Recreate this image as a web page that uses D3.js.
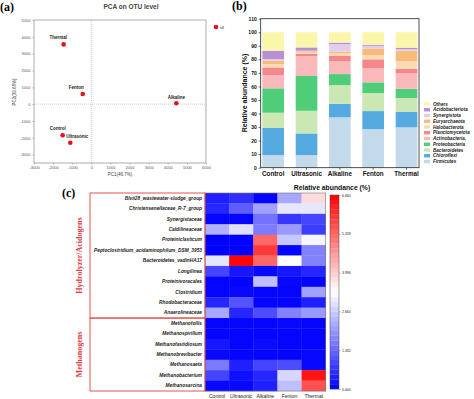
<!DOCTYPE html>
<html>
<head>
<meta charset="utf-8">
<script src="https://cdn.jsdelivr.net/npm/d3@7"></script>
<style>
body { margin: 0; background: #fff; }
svg { font-family: "Liberation Sans", Arial, sans-serif; }
.tick text { font-family: "Liberation Sans", Arial, sans-serif; }
</style>
</head>
<body>
<svg id="fig" width="474" height="399"></svg>
<script>
// ---- data ----
// (a) PCA
var pcaNames = ["Thermal", "Fenton", "Alkaline", "Control", "Ultrasonic"];
var pc1 = [-1450, -450, 4450, -1500, -1100];
var pc2 = [3550, 600, 50, -1850, -2300];
var pcaXTicks = [-3000, -2000, -1000, 0, 1000, 2000, 3000, 4000, 5000, 6000];
var pcaYTicks = [-3000, -2000, -1000, 0, 1000, 2000, 3000, 4000, 5000];

// (b) stacked bars, phylum level (%)
var groups = ["Control", "Ultrasonic", "Alkaline", "Fenton", "Thermal"];
var phyla = ["Firmicutes", "Chloroflexi", "Bacteroidetes", "Proteobacteria", "Actinobacteria,",
	"Planctomycetota", "Halobacterota", "Euryarchaeota", "Synergistota", "Acidobacteriota", "Others"];
var phylumColors = ["#c3daea", "#55abe0", "#cbe7b3", "#4fcd78", "#f9b9ba", "#f2878c",
	"#fcdab3", "#f8bb7c", "#e2cdea", "#b78fd5", "#fbf7aa"];
var abundance = {
	"Control":    [9.3, 20.0, 11.3, 18.0, 9.8, 5.6, 2.5, 2.5, 1.2, 6.2, 13.6],
	"Ultrasonic": [9.3, 16.0, 16.7, 25.7, 14.7, 1.6, 1.0, 1.0, 0.4, 2.4, 11.2],
	"Alkaline":   [37.2, 10.0, 13.8, 8.1, 9.6, 4.0, 1.7, 1.2, 5.7, 1.0, 7.7],
	"Fenton":     [28.5, 13.3, 13.3, 7.9, 10.3, 6.7, 3.2, 4.8, 2.0, 0.8, 9.2],
	"Thermal":    [29.8, 11.5, 10.1, 6.9, 11.3, 3.5, 5.6, 7.7, 1.0, 1.2, 11.4]
};
var barYTicks = [0, 10, 20, 30, 40, 50, 60, 70, 80, 90, 100, 110];

// (c) heatmap, genus level (%)
var genera = ["Blvii28_wastewater-sludge_group", "Christensenellaceae_R-7_group", "Synergistaceae",
	"Caldilineaceae", "Proteiniclasticum", "Peptoclostridium_acidaminophilum_DSM_3953",
	"Bacteroidetes_vadinHA17", "Longilinea", "Proteinivoracales", "Clostridium", "Rhodobacteraceae",
	"Anaerolineaceae", "Methanofollis", "Methanospirillum", "Methanofastidiosum", "Methanobrevibacter",
	"Methanosaeta", "Methanobacterium", "Methanosarcina"];
var heat = [
	[0.4, 0.6, 0.05, 2.2, 3.8],
	[0.5, 1.2, 2.1, 3.0, 3.0],
	[0.05, 0.05, 1.5, 0.7, 0.9],
	[2.3, 2.9, 1.6, 2.0, 0.8],
	[0.0, 0.0, 5.3, 2.6, 3.2],
	[0.0, 0.0, 5.9, 0.05, 1.7],
	[3.0, 6.6, 5.3, 3.35, 1.7],
	[0.9, 0.3, 0.1, 0.3, 0.5],
	[0.05, 0.05, 2.5, 0.1, 0.05],
	[0.05, 0.1, 0.05, 0.05, 2.1],
	[0.5, 1.1, 0.05, 0.05, 0.4],
	[2.2, 0.5, 1.0, 1.7, 2.0],
	[0.05, 0.05, 0.05, 0.1, 0.05],
	[0.05, 0.05, 0.05, 0.05, 0.05],
	[0.3, 0.05, 0.15, 0.05, 0.05],
	[0.1, 0.05, 0.05, 0.05, 0.1],
	[1.6, 0.4, 0.9, 1.0, 0.1],
	[0.9, 0.2, 0.5, 2.8, 6.4],
	[0.1, 0.1, 0.4, 2.5, 5.6]
];
var heatGroups = [
	{name: "Hydrolyzer/Acidogens", from: 0, to: 11},
	{name: "Methanogens", from: 12, to: 18}
];
var cbTicks = [0.000, 1.332, 2.664, 3.996, 5.328, 6.660];

var svg = d3.select("#fig");

// panel letters
[["(a)", 0, 11], ["(b)", 232, 10], ["(c)", 62, 197]].forEach(function(p){
	svg.append("text").attr("x", p[1]).attr("y", p[2]).text(p[0])
		.style("font-family", "'Liberation Serif', 'Times New Roman', serif")
		.style("font-weight", "bold").style("font-size", "12px");
});

// ---- (a) PCA ----
var px = d3.scaleLinear().domain([-3000, 6000]).range([34, 206]);
var py = d3.scaleLinear().domain([-3500, 5000]).range([163, 20]);

svg.append("text").attr("x", 131).attr("y", 9).attr("text-anchor", "middle")
	.style("font-size", "6.5px").style("font-weight", "bold").style("fill", "#444")
	.text("PCA on OTU level");

var ga = svg.append("g");
ga.append("rect").attr("x", px(-3000)).attr("y", py(5000))
	.attr("width", px(6000) - px(-3000)).attr("height", py(-3500) - py(5000))
	.attr("fill", "none").attr("stroke", "#777").attr("stroke-width", 0.6);

ga.append("line").attr("x1", px(0)).attr("x2", px(0)).attr("y1", py(5000)).attr("y2", py(-3500))
	.attr("stroke", "#999").attr("stroke-width", 0.5).attr("stroke-dasharray", "1,1");
ga.append("line").attr("x1", px(-3000)).attr("x2", px(6000)).attr("y1", py(0)).attr("y2", py(0))
	.attr("stroke", "#999").attr("stroke-width", 0.5).attr("stroke-dasharray", "1,1");

var plain = function(d){ return String(d); };
var axA = ga.append("g").attr("transform", "translate(0," + py(-3500) + ")")
	.call(d3.axisBottom(px).tickValues(pcaXTicks).tickFormat(plain).tickSize(1.5).tickPadding(2));
var ayA = ga.append("g").attr("transform", "translate(" + px(-3000) + ",0)")
	.call(d3.axisLeft(py).tickValues(pcaYTicks).tickFormat(plain).tickSize(1.5).tickPadding(2));
[axA, ayA].forEach(function(a){
	a.select(".domain").remove();
	a.selectAll("line").attr("stroke", "#777").attr("stroke-width", 0.5);
	a.selectAll("text").style("font-size", "4px").style("fill", "#555");
});

ga.append("text").attr("x", 120).attr("y", 176).attr("text-anchor", "middle")
	.style("font-size", "4.5px").style("fill", "#444").text("PC1(46.7%)");
ga.append("text").attr("transform", "translate(16,92) rotate(-90)").attr("text-anchor", "middle")
	.style("font-size", "4.5px").style("fill", "#444").text("PC2(39.68%)");

pcaNames.forEach(function(n, i){
	ga.append("circle").attr("cx", px(pc1[i])).attr("cy", py(pc2[i])).attr("r", 2.3).attr("fill", "#e8101a");
	var lx = px(pc1[i]), ly = py(pc2[i]) - 4;
	var anchor = "middle";
	if (n == "Ultrasonic") { lx = lx - 4; ly = py(pc2[i]) - 5; anchor = "start"; }
	if (n == "Control") { lx = lx - 13; ly = py(pc2[i]) - 5; anchor = "start"; }
	if (n == "Fenton") { lx = lx - 14; ly = py(pc2[i]) - 5; anchor = "start"; }
	if (n == "Thermal") { lx = lx - 14; ly = py(pc2[i]) - 5; anchor = "start"; }
	ga.append("text").attr("x", lx).attr("y", ly).attr("text-anchor", anchor)
		.style("font-size", "4.5px").style("font-weight", "bold").style("fill", "#222").text(n);
});
ga.append("circle").attr("cx", 216).attr("cy", 27).attr("r", 2.3).attr("fill", "#e8101a");
ga.append("text").attr("x", 220).attr("y", 28.5).style("font-size", "4px").style("fill", "#333").text("all");

// ---- (b) stacked bars ----
var bx = d3.scaleBand().domain(groups).range([260.7, 419]).paddingInner(0.35).paddingOuter(0.05);
var by = d3.scaleLinear().domain([0, 110]).range([167.7, 18.7]);

var stackRows = groups.map(function(g){
	var r = {group: g};
	phyla.forEach(function(p, i){ r[p] = abundance[g][i]; });
	return r;
});
var series = d3.stack().keys(phyla)(stackRows);

var gb = svg.append("g");
gb.selectAll(".layer").data(series).enter().append("g")
	.attr("fill", function(d, i){ return phylumColors[i]; })
	.selectAll("rect").data(function(d){ return d; }).enter().append("rect")
		.attr("x", function(d){ return bx(d.data.group); })
		.attr("width", bx.bandwidth())
		.attr("y", function(d){ return by(d[1]); })
		.attr("height", function(d){ return by(d[0]) - by(d[1]); });

gb.append("rect").attr("x", 260.7).attr("y", by(110)).attr("width", 419 - 260.7)
	.attr("height", by(0) - by(110)).attr("fill", "none").attr("stroke", "#222").attr("stroke-width", 0.8);

var axB = gb.append("g").attr("transform", "translate(0," + by(0) + ")")
	.call(d3.axisBottom(bx).tickSize(2).tickPadding(2));
var ayB = gb.append("g").attr("transform", "translate(260.7,0)")
	.call(d3.axisLeft(by).tickValues(barYTicks).tickSize(2).tickPadding(2));
axB.select(".domain").remove();
ayB.select(".domain").remove();
axB.selectAll("line").attr("stroke", "#222").attr("stroke-width", 0.7);
ayB.selectAll("line").attr("stroke", "#222").attr("stroke-width", 0.7);
axB.selectAll("text").style("font-size", "6.3px").style("font-weight", "bold").style("fill", "#111");
ayB.selectAll("text").style("font-size", "5px").style("font-weight", "bold").style("fill", "#111");

gb.append("text").attr("transform", "translate(247,93) rotate(-90)").attr("text-anchor", "middle")
	.style("font-size", "7px").style("font-weight", "bold").style("fill", "#111").text("Relative abundance (%)");

var legB = gb.append("g");
var legOrder = phyla.slice().reverse();
legOrder.forEach(function(p, i){
	var yy = 104 + i * 5.75;
	legB.append("rect").attr("x", 424).attr("y", yy - 1.7).attr("width", 6).attr("height", 3.4)
		.attr("fill", phylumColors[phyla.indexOf(p)]);
	legB.append("text").attr("x", 433).attr("y", yy + 1.5)
		.style("font-size", "4.6px").style("font-weight", "bold").style("font-style", "italic")
		.style("fill", "#222").text(p);
});

// ---- (c) heatmap ----
var hx = d3.scaleBand().domain(groups).range([205, 325.7]);
var hy = d3.scaleBand().domain(genera).range([193, 391]);
var heatColor = d3.scaleLinear().domain([0, 3.33, 6.66]).range(["#0000ff", "#ffffff", "#ff0000"]).clamp(true);

var gc = svg.append("g");
svg.append("text").attr("x", 332).attr("y", 190).attr("text-anchor", "middle")
	.style("font-size", "6.8px").style("font-weight", "bold").style("fill", "#111").text("Relative abundance (%)");

var cells = [];
heat.forEach(function(row, r){
	row.forEach(function(v, c){ cells.push({g: genera[r], s: groups[c], v: v}); });
});
gc.selectAll(".cell").data(cells).enter().append("rect")
	.attr("x", function(d){ return hx(d.s); })
	.attr("y", function(d){ return hy(d.g); })
	.attr("width", hx.bandwidth() + 0.3)
	.attr("height", hy.bandwidth() + 0.3)
	.attr("fill", function(d){ return heatColor(d.v); });

gc.append("rect").attr("x", 205).attr("y", 193).attr("width", 325.7 - 205).attr("height", 391 - 193)
	.attr("fill", "none").attr("stroke", "#777").attr("stroke-width", 0.6);

// group boxes
heatGroups.forEach(function(g){
	var y0 = hy(genera[g.from]), y1 = hy(genera[g.to]) + hy.bandwidth();
	gc.append("rect").attr("x", 90).attr("y", y0).attr("width", 205 - 90).attr("height", y1 - y0)
		.attr("fill", "none").attr("stroke", "#e0403f").attr("stroke-width", 0.9);
	gc.append("text").attr("transform", "translate(82," + ((y0 + y1) / 2) + ") rotate(-90)")
		.attr("text-anchor", "middle")
		.style("font-family", "'Liberation Serif', 'Times New Roman', serif")
		.style("font-size", "8px").style("font-weight", "bold").style("fill", "#e0403f").text(g.name);
});

var ayC = gc.append("g").attr("transform", "translate(205,0)")
	.call(d3.axisLeft(hy).tickSize(0).tickPadding(3));
ayC.select(".domain").remove();
ayC.selectAll("text").style("font-size", "4.8px").style("font-weight", "bold").style("font-style", "italic").style("fill", "#222");

var axC = gc.append("g").attr("transform", "translate(0,391)")
	.call(d3.axisBottom(hx).tickSize(0).tickPadding(3));
axC.select(".domain").remove();
axC.selectAll("text").style("font-size", "5px").style("fill", "#222");

// colour bar
var cb = d3.scaleLinear().domain([0, 6.66]).range([389, 195]);
var nSteps = 40;
var steps = d3.range(nSteps).map(function(i){ return i * 6.66 / nSteps; });
gc.selectAll(".cbs").data(steps).enter().append("rect")
	.attr("x", 330).attr("width", 9)
	.attr("y", function(d){ return cb(d + 6.66 / nSteps); })
	.attr("height", function(d){ return cb(d) - cb(d + 6.66 / nSteps) + 0.2; })
	.attr("fill", function(d){ return heatColor(d + 3.33 / nSteps); });
gc.append("rect").attr("x", 330).attr("y", 195).attr("width", 9).attr("height", 194)
	.attr("fill", "none").attr("stroke", "#444").attr("stroke-width", 0.5);
var acb = gc.append("g").attr("transform", "translate(339,0)")
	.call(d3.axisRight(cb).tickValues(cbTicks).tickFormat(d3.format(".3f")).tickSize(1.5).tickPadding(1.5));
acb.select(".domain").remove();
acb.selectAll("line").attr("stroke", "#444").attr("stroke-width", 0.4);
acb.selectAll("text").style("font-size", "3.5px").style("fill", "#222");
</script>
</body>
</html>
